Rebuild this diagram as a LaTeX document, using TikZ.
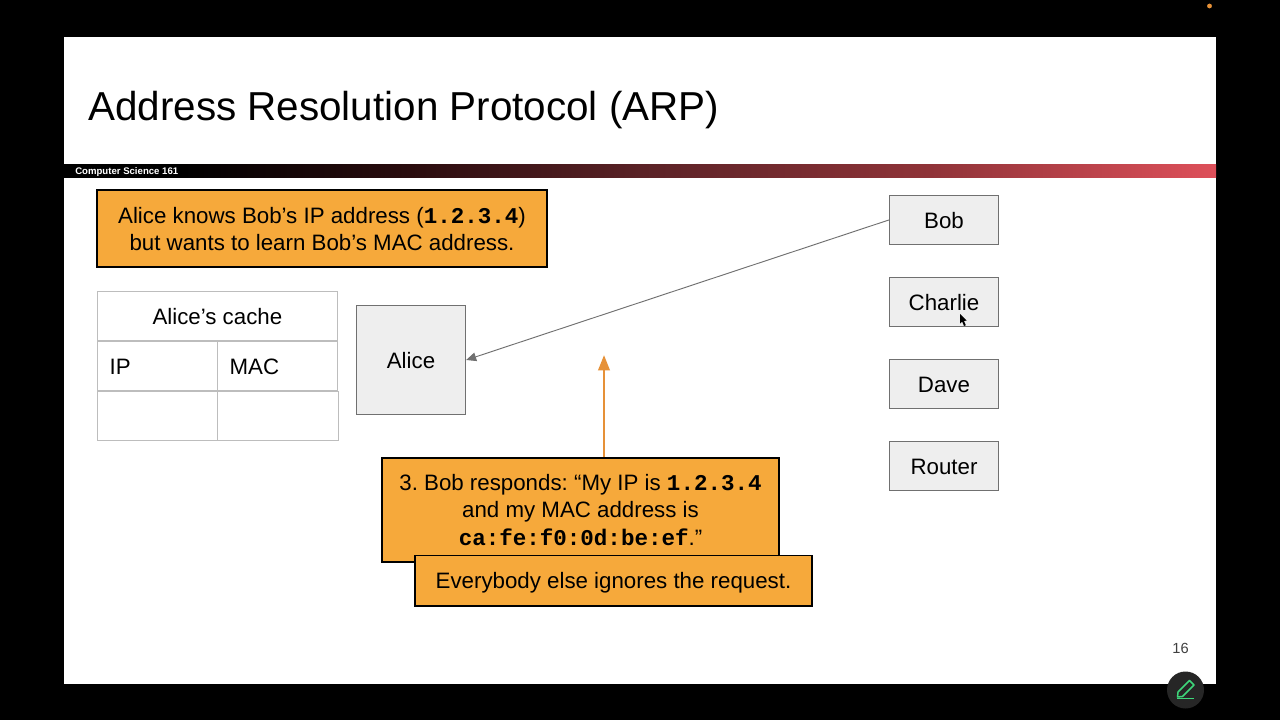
\documentclass[tikz,border=0pt]{standalone}
\usepackage{fontspec}
\setmainfont{Liberation Sans}
\setmonofont{Liberation Mono}
\usetikzlibrary{arrows.meta}
\definecolor{callout}{HTML}{F6A93B}
\definecolor{arrowor}{HTML}{E69138}
\definecolor{hostfill}{HTML}{EEEEEE}
\definecolor{hostline}{HTML}{707070}
\definecolor{tableline}{HTML}{BDBDBD}
\definecolor{bandb}{HTML}{2A0C0E}
\definecolor{bandc}{HTML}{5A2226}
\definecolor{bandd}{HTML}{8F3338}
\definecolor{bande}{HTML}{DE505A}
\definecolor{pengreen}{HTML}{3ED67A}
\pgfdeclarehorizontalshading{bandshade}{100bp}{
  color(0bp)=(black); color(30bp)=(black); color(40bp)=(bandb);
  color(50bp)=(bandc); color(62.5bp)=(bandd);
  color(75bp)=(bande); color(100bp)=(bande)}
\newcommand{\bodysize}{\fontsize{16.72pt}{20pt}\selectfont\frenchspacing}
\newcommand{\mn}[1]{{\ttfamily\bfseries\fontsize{16.9pt}{20pt}\selectfont #1}}
\tikzset{
  x=0.75pt,y=-0.75pt,
  calloutbox/.style={draw=black,line width=1.3pt,fill=callout,align=center,inner sep=0pt,font=\bodysize},
  hostbox/.style={draw=hostline,line width=0.65pt,fill=hostfill,inner sep=0pt,font=\bodysize,text height=12.75pt,text depth=0pt},
  cellbox/.style={draw=tableline,line width=0.65pt,fill=white,inner sep=0pt,font=\bodysize,text height=12.2pt,text depth=0pt},
  cellleft/.style={cellbox,anchor=west,text width=71.8pt,align=left,inner xsep=9pt,minimum width=90pt,minimum height=37.2pt},
  linkline/.style={draw=hostline,line width=0.7pt,-{Triangle[length=7.5pt,width=6.5pt]}},
  replyarrow/.style={draw=arrowor,line width=1.9pt,-{Triangle[length=11.5pt,width=8.5pt]}},
}
\begin{document}
\begin{tikzpicture}
\useasboundingbox (0,0) rectangle (1280,720);
\fill[black] (0,0) rectangle (1280,720);
\fill[white] (64,37) rectangle (1216,684);
\shade[shading=bandshade] (64,165) rectangle (1216,178);
\fill[arrowor] (1209.5,6) circle (2.4);
\node[anchor=base west,inner sep=0pt,font=\fontsize{30.3pt}{36pt}\selectfont] (title) at (88,120.6) {Address Resolution Protocol (ARP)};
\node[anchor=base west,inner sep=0pt,text=white,font=\fontsize{7.2pt}{8pt}\selectfont\bfseries] (course) at (75,175) {Computer Science 161};
\node[inner sep=0pt,font=\fontsize{11pt}{13pt}\selectfont,text=black!75] (pagenum) at (1180.5,648.5) {16};

\node[calloutbox,minimum width=337.5pt,minimum height=57.75pt] (know) at (322,228.5)
  {\rule{0pt}{13pt}Alice knows Bob’s IP address (\mn{1.2.3.4})\\but wants to learn Bob’s MAC address.};

\node[cellbox,minimum width=180.4pt,minimum height=37.2pt] (cachehead) at (217.4,316) {Alice’s cache};
\node[cellleft] (iphead) at (97,366) {IP};
\node[cellleft] (machead) at (217,366) {MAC};
\node[cellbox,minimum width=90pt,minimum height=37.2pt,anchor=west] (ipcell) at (97,416) {};
\node[cellbox,minimum width=90.4pt,minimum height=37.2pt,anchor=west] (maccell) at (217,416) {};

\node[hostbox,minimum width=82.1pt,minimum height=82.1pt] (alice) at (411,360) {Alice};
\node[hostbox,minimum width=82.1pt,minimum height=37.1pt] (bob) at (944,220) {Bob};
\node[hostbox,minimum width=82.1pt,minimum height=37.1pt] (charlie) at (944,302) {Charlie};
\node[hostbox,minimum width=82.1pt,minimum height=37.1pt] (dave) at (944,384) {Dave};
\node[hostbox,minimum width=82.1pt,minimum height=37.1pt] (router) at (944,466) {Router};

\draw[linkline] (bob.west) -- (alice.east);

\node[calloutbox,minimum width=297.75pt,minimum height=78pt] (respond) at (580.5,510)
  {3. Bob responds: “My IP is \mn{1.2.3.4}\\[0.3pt]and my MAC address is\\[0.3pt]\mn{ca:fe:f0:0d:be:ef}.”};
\node[calloutbox,minimum width=297.75pt,minimum height=37.8pt,text height=12pt,text depth=0pt] (ignore) at (613.5,580.7) {Everybody else ignores the request.};

\coordinate (replytip) at (604,355);
\draw[replyarrow] (replytip |- respond.north) -- (replytip);

% pointer
\fill[black] (960,314) -- (960,323.5) -- (962.2,321.6) -- (964,326) -- (965.8,325.2) -- (963.9,320.9) -- (966.6,320.6) -- cycle;

% pen button
\fill[black!85] (1185.5,690) circle (18.5);
\draw[pengreen,line width=1.1pt,line join=round] (1178,692) -- (1189.5,680.5) -- (1194,685) -- (1182.5,696.5) -- (1177.5,697) -- cycle;
\draw[pengreen,line width=1.2pt] (1177,698.3) -- (1194,698.3);
\end{tikzpicture}
\end{document}
